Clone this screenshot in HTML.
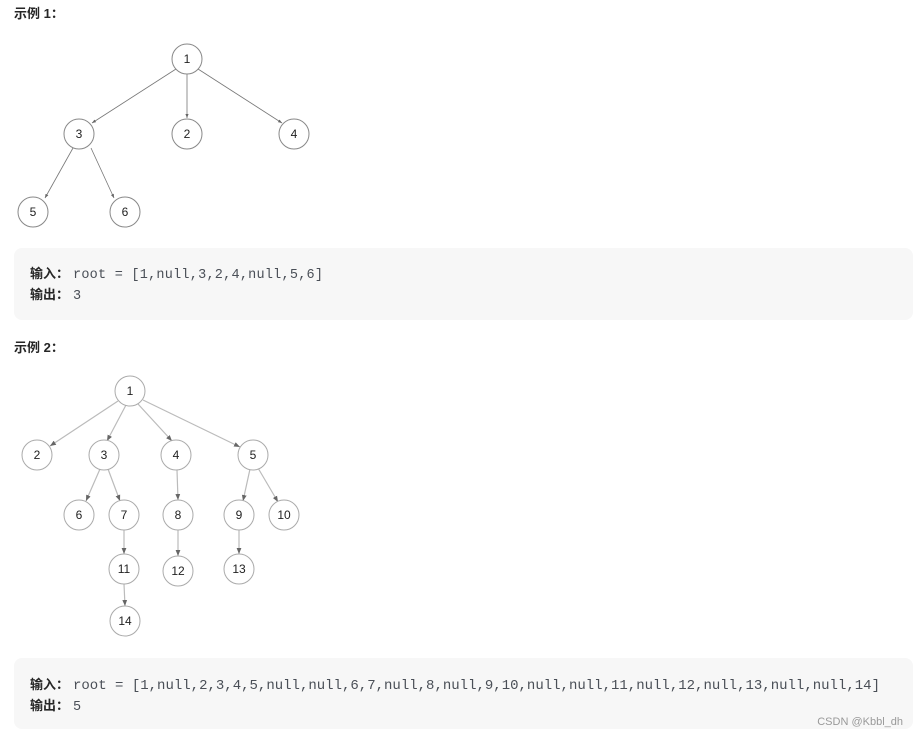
<!DOCTYPE html>
<html><head><meta charset="utf-8"><style>
body{margin:0;background:#fff;}
svg{display:block}
.t{font-family:"Liberation Sans","Noto Sans CJK SC",sans-serif;font-weight:bold;font-size:13px;fill:#262626}
.m{font-family:"Liberation Mono",monospace;font-size:13.5px;fill:#4a4f57}
.n{font-family:"Liberation Sans",sans-serif;font-size:12px;fill:#222;text-anchor:middle;dominant-baseline:central}
circle{fill:#fff;stroke:#888;stroke-width:1}
line{stroke:#777;stroke-width:0.8}
.b line{stroke:#bbb;stroke-width:1.2}
.b circle{stroke:#aaa}
</style></head><body>
<svg width="918" height="737" viewBox="0 0 918 737">
<defs><marker id="a" markerWidth="6" markerHeight="6" refX="5" refY="3" orient="auto"><path d="M0,1 L5,3 L0,5z" fill="#666"/></marker></defs>
<text class="t" x="14" y="18">示例 1：</text>
<g>
<line x1="176" y1="69" x2="92" y2="123" marker-end="url(#a)"/>
<line x1="187" y1="74" x2="187" y2="118" marker-end="url(#a)"/>
<line x1="198" y1="69" x2="282" y2="123" marker-end="url(#a)"/>
<line x1="73" y1="148" x2="45" y2="198" marker-end="url(#a)"/>
<line x1="91" y1="148" x2="114" y2="198" marker-end="url(#a)"/>
<circle cx="187" cy="59" r="15"/><text class="n" x="187" y="59">1</text>
<circle cx="79" cy="134" r="15"/><text class="n" x="79" y="134">3</text>
<circle cx="187" cy="134" r="15"/><text class="n" x="187" y="134">2</text>
<circle cx="294" cy="134" r="15"/><text class="n" x="294" y="134">4</text>
<circle cx="33" cy="212" r="15"/><text class="n" x="33" y="212">5</text>
<circle cx="125" cy="212" r="15"/><text class="n" x="125" y="212">6</text>
</g>
<rect x="14" y="248" width="899" height="72" rx="8" fill="#f7f7f7"/>
<text class="t" x="30" y="278">输入：</text><text class="m" x="73" y="278" textLength="250">root = [1,null,3,2,4,null,5,6]</text>
<text class="t" x="30" y="299">输出：</text><text class="m" x="73" y="299">3</text>
<text class="t" x="14" y="352">示例 2：</text>
<g class="b">
<line x1="118" y1="401" x2="50" y2="446" marker-end="url(#a)"/>
<line x1="126" y1="405" x2="107" y2="441" marker-end="url(#a)"/>
<line x1="138" y1="404" x2="172" y2="441" marker-end="url(#a)"/>
<line x1="143" y1="400" x2="240" y2="447" marker-end="url(#a)"/>
<line x1="100" y1="469" x2="86" y2="501" marker-end="url(#a)"/>
<line x1="108" y1="469" x2="120" y2="501" marker-end="url(#a)"/>
<line x1="177" y1="470" x2="178" y2="500" marker-end="url(#a)"/>
<line x1="250" y1="469" x2="243" y2="501" marker-end="url(#a)"/>
<line x1="258" y1="468" x2="278" y2="502" marker-end="url(#a)"/>
<line x1="124" y1="530" x2="124" y2="554" marker-end="url(#a)"/>
<line x1="178" y1="530" x2="178" y2="556" marker-end="url(#a)"/>
<line x1="239" y1="530" x2="239" y2="554" marker-end="url(#a)"/>
<line x1="124" y1="584" x2="125" y2="606" marker-end="url(#a)"/>
<circle cx="130" cy="391" r="15"/><text class="n" x="130" y="391">1</text>
<circle cx="37" cy="455" r="15"/><text class="n" x="37" y="455">2</text>
<circle cx="104" cy="455" r="15"/><text class="n" x="104" y="455">3</text>
<circle cx="176" cy="455" r="15"/><text class="n" x="176" y="455">4</text>
<circle cx="253" cy="455" r="15"/><text class="n" x="253" y="455">5</text>
<circle cx="79" cy="515" r="15"/><text class="n" x="79" y="515">6</text>
<circle cx="124" cy="515" r="15"/><text class="n" x="124" y="515">7</text>
<circle cx="178" cy="515" r="15"/><text class="n" x="178" y="515">8</text>
<circle cx="239" cy="515" r="15"/><text class="n" x="239" y="515">9</text>
<circle cx="284" cy="515" r="15"/><text class="n" x="284" y="515">10</text>
<circle cx="124" cy="569" r="15"/><text class="n" x="124" y="569">11</text>
<circle cx="178" cy="571" r="15"/><text class="n" x="178" y="571">12</text>
<circle cx="239" cy="569" r="15"/><text class="n" x="239" y="569">13</text>
<circle cx="125" cy="621" r="15"/><text class="n" x="125" y="621">14</text>
</g>
<rect x="14" y="658" width="899" height="71" rx="8" fill="#f7f7f7"/>
<text class="t" x="30" y="689">输入：</text><text class="m" x="73" y="689" textLength="807" lengthAdjust="spacingAndGlyphs">root = [1,null,2,3,4,5,null,null,6,7,null,8,null,9,10,null,null,11,null,12,null,13,null,null,14]</text>
<text class="t" x="30" y="710">输出：</text><text class="m" x="73" y="710">5</text>
<text x="903" y="725" text-anchor="end" style="font-family:'Liberation Sans',sans-serif;font-size:11px;fill:#999">CSDN @Kbbl_dh</text>
</svg>
</body></html>
